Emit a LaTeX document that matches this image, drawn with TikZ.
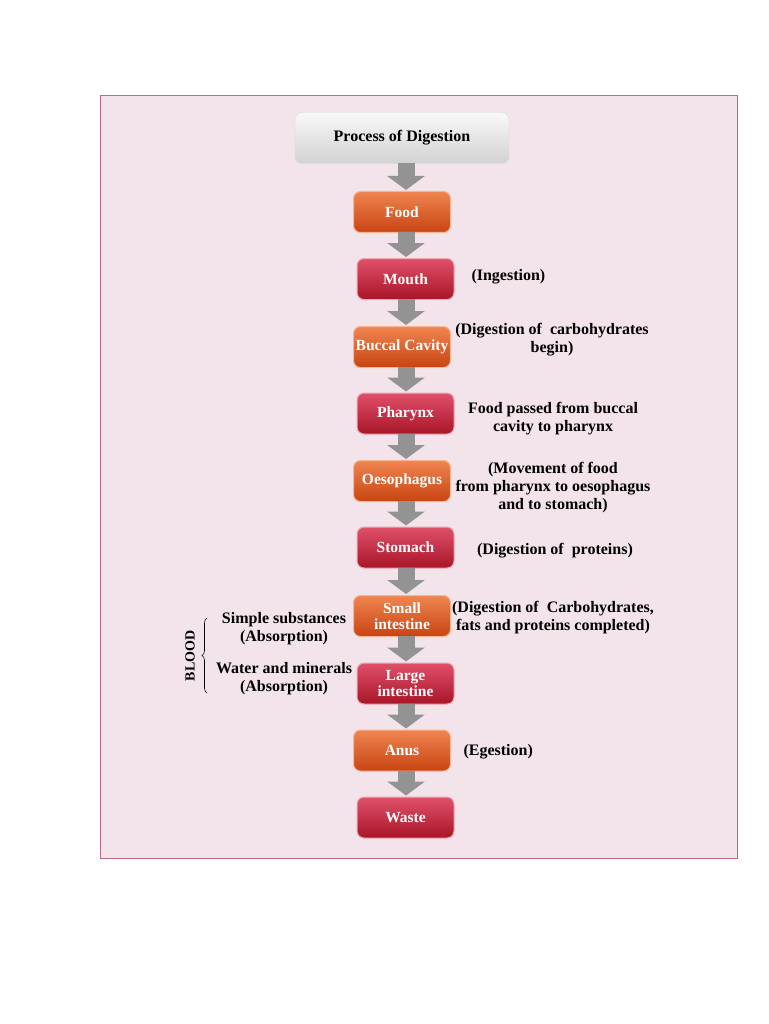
\documentclass[tikz,border=0pt]{standalone}
\usepackage{fontspec}
\setmainfont{Liberation Serif}
\usetikzlibrary{arrows.meta,decorations.pathreplacing}
\definecolor{bg}{HTML}{F2E4EA}
\definecolor{frm}{HTML}{C06A8A}
\definecolor{oT}{HTML}{F08550}
\definecolor{oB}{HTML}{C84412}
\definecolor{rT}{HTML}{E0506A}
\definecolor{rB}{HTML}{A81528}
\begin{document}
\begin{tikzpicture}[x=1pt,y=-1pt,
 box/.style={rounded corners=7pt,minimum width=97pt,minimum height=41pt,align=center,text=white,font=\bfseries\fontsize{15.5}{15}\selectfont,inner sep=1pt},
 orange/.style={box,draw=oT!60!white,line width=1pt,top color=oT,bottom color=oB},
 red/.style={box,draw=rT!50!white,line width=1pt,top color=rT,bottom color=rB},
 lab/.style={align=center,font=\bfseries\fontsize{16}{18}\selectfont},
 arr/.style={draw=gray!85,line width=17pt,-{Triangle[width=37pt,length=14pt]},shorten <=-1pt,shorten >=1pt}]
\useasboundingbox (0,0) rectangle (768,1024);
\fill[white] (0,0) rectangle (768,1024);
\draw[frm,fill=bg,line width=1pt] (100,96) rectangle (737,858);
\node[box,minimum width=214pt,minimum height=51pt,text=black,top color=gray!5,bottom color=gray!35,draw=gray!30,font=\bfseries\fontsize{16}{18}\selectfont] (t) at (402,138) {Process of Digestion};
\node[orange] (food) at (402,212) {Food};
\node[red] (mouth) at (405.5,279) {Mouth};
\node[orange] (bucc) at (402,347) {Buccal Cavity};
\node[red] (phar) at (405.5,413.5) {Pharynx};
\node[orange] (oes) at (402,481) {Oesophagus};
\node[red] (stom) at (405.5,547.5) {Stomach};
\node[orange] (small) at (402,616) {Small\\[1pt]intestine};
\node[red] (large) at (405.5,683.5) {Large\\[1pt]intestine};
\node[orange] (anus) at (402,750.5) {Anus};
\node[red] (waste) at (405.5,817.5) {Waste};
\foreach \a/\b in {t/food,food/mouth,mouth/bucc,bucc/phar,phar/oes,oes/stom,stom/small,small/large,large/anus,anus/waste}
  \draw[arr] (\a.south -| 406,0) -- (\b.north -| 406,0);
\node[lab,anchor=west] (l1) at (468,277) {(Ingestion)};
\node[lab] (l2) at (552,340) {(Digestion of\ \ carbohydrates\\begin)};
\node[lab] (l3) at (553,419) {Food passed from buccal\\cavity to pharynx};
\node[lab] (l4) at (553,488) {(Movement of food\\from pharynx to oesophagus\\and to stomach)};
\node[lab] (l5) at (555,551) {(Digestion of\ \ proteins)};
\node[lab] (l6) at (553,618) {(Digestion of\ \ Carbohydrates,\\fats and proteins completed)};
\node[lab,anchor=west] (l7) at (460,752) {(Egestion)};
\node[lab] (s1) at (284,629) {Simple substances\\(Absorption)};
\node[lab] (s2) at (284,679) {Water and minerals\\(Absorption)};
\draw[decorate,decoration={brace,amplitude=5pt},line width=0.6pt] (207,693) -- (207,618);
\node[lab,rotate=90,font=\bfseries\fontsize{14}{15}\selectfont] (blood) at (190,656) {BLOOD};
\end{tikzpicture}
\end{document}
